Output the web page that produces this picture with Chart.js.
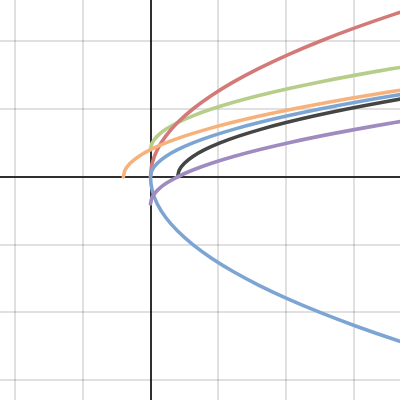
<!DOCTYPE html>
<html>
<head>
<meta charset="utf-8">
<script src="https://cdn.jsdelivr.net/npm/chart.js@4"></script>
<style>
html,body{margin:0;padding:0;background:#fff;}
#wrap{width:400px;height:400px;}
</style>
</head>
<body>
<div id="wrap"><canvas id="c" width="400" height="400"></canvas></div>
<script>
// Grid line positions (no tick labels shown)
const gridX = [-10, -5, 0, 5, 10, 15];
const gridY = [-15, -10, -5, 0, 5, 10];

// Curves (x, y pairs)
const blueX = [21.125,18,15.125,12.5,10.125,8,6.125,4.5,3.125,2,1.125,0.5,0.125,0,0.125,0.5,1.125,2,3.125,4.5,6.125,8,10.125,12.5,15.125,18,21.125];
const blueY = [-13,-12,-11,-10,-9,-8,-7,-6,-5,-4,-3,-2,-1,0,0.5,1,1.5,2,2.5,3,3.5,4,4.5,5,5.5,6,6.5];

const redX = [0,0.125,0.5,1.125,2,3.125,4.5,6.125,8,10.125,12.5,15.125,18,21.125];
const redY = [0,1,2,3,4,5,6,7,8,9,10,11,12,13];

const greenX = [0,0.125,0.5,1.125,2,3.125,4.5,6.125,8,10.125,12.5,15.125,18,21.125];
const greenY = [2,2.5,3,3.5,4,4.5,5,5.5,6,6.5,7,7.5,8,8.5];

const purpleX = [0,0.125,0.5,1.125,2,3.125,4.5,6.125,8,10.125,12.5,15.125,18,21.125];
const purpleY = [-2,-1.5,-1,-0.5,0,0.5,1,1.5,2,2.5,3,3.5,4,4.5];

const orangeX = [-2,-1.875,-1.5,-0.875,0,1.125,2.5,4.125,6,8.125,10.5,13.125,16,19.125];
const orangeY = [0,0.5,1,1.5,2,2.5,3,3.5,4,4.5,5,5.5,6,6.5];

const blackX = [2,2.125,2.5,3.125,4,5.125,6.5,8.125,10,12.125,14.5,17.125,20];
const blackY = [0,0.5,1,1.5,2,2.5,3,3.5,4,4.5,5,5.5,6];

const xMin = -11.10, xMax = 18.40, yMin = -16.46, yMax = 13.04;

function pts(xs, ys){ return xs.map((x,i)=>({x:x, y:ys[i]})); }
function ds(xs, ys, color){
  return {data: pts(xs, ys), borderColor: color, borderWidth: 3.6, pointRadius: 0,
          showLine: true, fill: false, tension: 0.4, borderCapStyle: 'round', borderJoinStyle: 'round'};
}

function gridColor(ctx){ return ctx.tick && ctx.tick.value === 0 ? '#2f2f2f' : 'rgba(0,0,0,0.12)'; }
function gridWidth(ctx){ return 2; }

new Chart(document.getElementById('c'), {
  type: 'scatter',
  data: {
    datasets: [
      ds(purpleX, purpleY, '#a08bc0'),
      ds(blackX, blackY, '#454545'),
      ds(blueX, blueY, '#7da5d4'),
      ds(orangeX, orangeY, '#f7b17a'),
      ds(redX, redY, '#d37a79'),
      ds(greenX, greenY, '#b6ce8a')
    ]
  },
  options: {
    responsive: false,
    animation: false,
    events: [],
    layout: {padding: 0},
    plugins: {legend: {display: false}, tooltip: {enabled: false}},
    scales: {
      x: {
        type: 'linear', min: xMin, max: xMax,
        afterBuildTicks: (axis) => { axis.ticks = gridX.map(v => ({value: v})); },
        ticks: {display: false},
        grid: {drawTicks: false, color: gridColor, lineWidth: gridWidth},
        border: {display: false}
      },
      y: {
        type: 'linear', min: yMin, max: yMax,
        afterBuildTicks: (axis) => { axis.ticks = gridY.map(v => ({value: v})); },
        ticks: {display: false},
        grid: {drawTicks: false, color: gridColor, lineWidth: gridWidth},
        border: {display: false}
      }
    }
  }
});
</script>
</body>
</html>
